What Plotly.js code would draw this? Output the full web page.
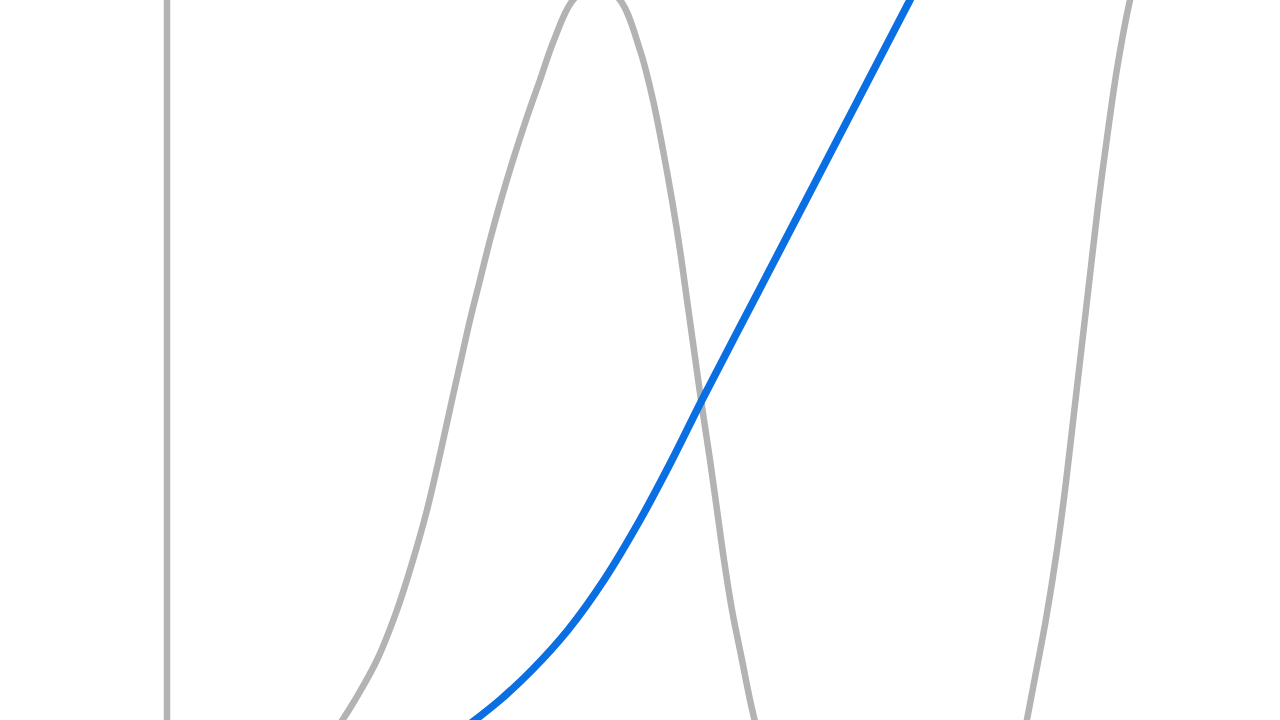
<!DOCTYPE html>
<html>
<head>
<meta charset="utf-8">
<script src="https://cdn.plot.ly/plotly-3.0.1.min.js"></script>
<style>
  html, body { margin: 0; padding: 0; background: #fff; }
  #chart { width: 1280px; height: 720px; }
</style>
</head>
<body>
<div id="chart"></div>
<script>
// values (x across, y down from the top)
const axisX = [167, 167];
const axisY = [-10, 730];

const bellX = [336, 355, 377, 397, 413, 427, 441, 452, 461, 470, 480, 490, 501, 513, 526, 540, 554, 573, 597,
               620, 640, 653, 663, 672, 680, 687, 694, 701, 710, 717, 724, 732, 742, 750, 757];
const bellY = [730, 700, 660, 610, 560, 510, 450, 400, 360, 320, 280, 240, 200, 160, 120, 80, 40, 0, -16,
               0, 50, 100, 150, 200, 250, 300, 350, 400, 460, 510, 560, 610, 660, 700, 730];

const riseX = [1025, 1033, 1046, 1057, 1066, 1074, 1082, 1090, 1098, 1107, 1117, 1130, 1134];
const riseY = [730, 688, 619, 550, 482, 413, 344, 275, 206, 138, 69, 0, -15];

const blueX = [462, 500, 532, 568, 604, 640, 672, 702, 754, 806, 858, 910, 915];
const blueY = [730, 700, 670, 630, 580, 520, 460, 400, 300, 200, 100, 0, -10];

const gray = "#b3b3b3";
const blue = "#0a6fe3";

var traces = [
    { x: axisX, y: axisY, mode: 'lines', line: { color: gray, width: 6.5 } },
    { x: bellX, y: bellY, mode: 'lines', line: { color: gray, width: 6.5, shape: 'spline', smoothing: 1 } },
    { x: riseX, y: riseY, mode: 'lines', line: { color: gray, width: 6.5, shape: 'spline', smoothing: 1 } },
    { x: blueX, y: blueY, mode: 'lines', line: { color: blue, width: 7.5, shape: 'spline', smoothing: 1 } }
];

var layout = {
    width: 1280, height: 720,
    margin: { t: 0, r: 0, l: 0, b: 0 },
    paper_bgcolor: "#fff",
    plot_bgcolor: "#fff",
    showlegend: false,
    xaxis: { range: [0, 1280], visible: false, fixedrange: true },
    yaxis: { range: [720, 0], visible: false, fixedrange: true }
};

Plotly.newPlot('chart', traces, layout, { displayModeBar: false, staticPlot: true });
</script>
</body>
</html>
